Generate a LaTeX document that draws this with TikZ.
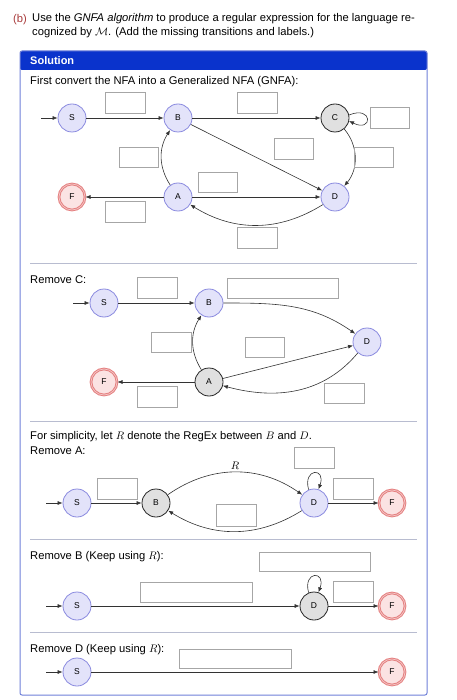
\documentclass[tikz,border=0pt]{standalone}
\usepackage{amsmath}
\usepackage{fontspec}
\setmainfont{Liberation Sans}
\usetikzlibrary{arrows.meta}

\definecolor{stateblue}{HTML}{8A8ADF}
\definecolor{statefill}{HTML}{E3E3FA}
\definecolor{finalred}{HTML}{E58080}
\definecolor{finalfill}{HTML}{FBE3E3}
\definecolor{headblue}{HTML}{0A33CC}
\definecolor{frameblue}{HTML}{6F80D8}
\definecolor{rulegray}{HTML}{B8BCD0}
\definecolor{partred}{HTML}{A83A3A}

\begin{document}
\begin{tikzpicture}[x=1pt, y=1pt,
	state/.style={circle, draw=stateblue, fill=statefill, line width=0.8pt,
		minimum size=28pt, inner sep=0pt, font=\fontsize{8.5}{9}\selectfont},
	elim/.style={state, draw=black!85, fill=black!12},
	final/.style={state, draw=finalred, fill=finalfill, double=finalred!45,
		double distance=0.7pt, line width=1pt, minimum size=26pt},
	trans/.style={draw=black!80, line width=0.6pt,
		-{Latex[length=5pt, width=4pt]}},
	answer/.style={draw=black!35, line width=0.6pt},
	txt/.style={anchor=west, inner sep=0pt, font=\fontsize{11.2}{14}\selectfont}]
	\useasboundingbox (0,0) rectangle (456,-700);

	% task text
	\node [txt, text=partred] (part) at (13,-20) {(b)};
	\node [txt, anchor=north west, align=left] (task) at (32,-13)
		{Use the \emph{GNFA algorithm} to produce a regular expression for the language re-\\
		cognized by $\mathcal{M}$. (Add the missing transitions and labels.)};

	% solution frame
	\fill [headblue, rounded corners=2pt] (20,-51) rectangle (427,-70);
	\draw [frameblue, line width=1pt, rounded corners=2pt] (20,-51) rectangle (427,-695);
	\node [txt, text=white, font=\fontsize{11}{12}\selectfont\bfseries] (sol) at (30,-61) {Solution};
	\foreach \y in {263, 421, 539, 632}
		\draw [rulegray, line width=0.6pt] (30,-\y) -- (417,-\y);

	% GNFA
	\node [txt] (t1) at (30,-82) {First convert the NFA into a Generalized NFA (GNFA):};
	\node [state] (S1) at (72,-118) {S};
	\node [state] (B1) at (178,-118) {B};
	\node [elim]  (C1) at (335,-118) {C};
	\node [final] (F1) at (72,-197) {F};
	\node [state] (A1) at (178,-197) {A};
	\node [state] (D1) at (335,-197) {D};
	\coordinate (i1) at (41,-118);
	\draw [trans] (i1) -- (S1);
	\draw [trans] (S1) -- (B1);
	\draw [trans] (B1) -- (C1);
	\draw [trans] (B1) -- (D1);
	\draw [trans] (C1.12) .. controls +(24,10) and +(24,-12) .. (C1.-12);
	\draw [trans] (C1) to[bend left=40] (D1);
	\draw [trans] (A1) to[bend left=33] (B1);
	\draw [trans] (A1) -- (F1);
	\draw [trans] (A1) -- (D1);
	\draw [trans] (D1) to[bend left=32] (A1);
	\draw [answer] (105,-92) rectangle (145,-113);
	\draw [answer] (237,-92) rectangle (277,-113);
	\draw [answer] (370,-107) rectangle (409,-128);
	\draw [answer] (119,-147) rectangle (158,-167);
	\draw [answer] (274,-138) rectangle (313,-159);
	\draw [answer] (354,-147) rectangle (393,-167);
	\draw [answer] (198,-172) rectangle (237,-192);
	\draw [answer] (105,-201) rectangle (145,-222);
	\draw [answer] (237,-227) rectangle (277,-248);

	% remove C
	\node [txt] (t2) at (30,-280) {Remove C:};
	\node [state] (S2) at (104,-303) {S};
	\node [state] (B2) at (209,-303) {B};
	\node [state] (D2) at (367,-342) {D};
	\node [final] (F2) at (104,-382) {F};
	\node [elim]  (A2) at (209,-382) {A};
	\coordinate (i2) at (73,-303);
	\draw [trans] (i2) -- (S2);
	\draw [trans] (S2) -- (B2);
	\draw [trans] (B2) to[out=0, in=145] (D2);
	\draw [trans] (A2) to[bend left=32] (B2);
	\draw [trans] (A2) -- (D2);
	\draw [trans] (D2) to[out=-130, in=-15] (A2);
	\draw [trans] (A2) -- (F2);
	\draw [answer] (137,-277) rectangle (177,-298);
	\draw [answer] (227,-278) rectangle (338,-298);
	\draw [answer] (151,-332) rectangle (191,-352);
	\draw [answer] (245,-337) rectangle (284,-357);
	\draw [answer] (324,-383) rectangle (364,-403);
	\draw [answer] (137,-386) rectangle (177,-407);

	% remove A
	\node [txt, anchor=north west, align=left, font=\fontsize{11.2}{15}\selectfont] (t3) at (30,-431)
		{For simplicity, let $R$ denote the RegEx between $B$ and $D$.\\
		Remove A:};
	\node [state] (S3) at (77,-503) {S};
	\node [elim]  (B3) at (156,-503) {B};
	\node [state] (D3) at (314,-503) {D};
	\node [final] (F3) at (392,-503) {F};
	\coordinate (i3) at (46,-503);
	\draw [trans] (i3) -- (S3);
	\draw [trans] (S3) -- (B3);
	\draw [trans] (B3) to[bend left=35] node[above=-1pt, font=\fontsize{11}{12}\selectfont] {$R$} (D3);
	\draw [trans] (D3) to[bend left=32] (B3);
	\draw [trans] (D3.112) .. controls +(-6,22) and +(8,22) .. (D3.72);
	\draw [trans] (D3) -- (F3);
	\draw [answer] (97,-478) rectangle (137,-499);
	\draw [answer] (294,-447) rectangle (334,-468);
	\draw [answer] (333,-478) rectangle (373,-499);
	\draw [answer] (216,-504) rectangle (256,-526);

	% remove B
	\node [txt] (t4) at (30,-557) {Remove B (Keep using $R$):};
	\node [state] (S4) at (77,-606) {S};
	\node [elim]  (D4) at (314,-606) {D};
	\node [final] (F4) at (392,-606) {F};
	\coordinate (i4) at (46,-606);
	\draw [trans] (i4) -- (S4);
	\draw [trans] (S4) -- (D4);
	\draw [trans] (D4.112) .. controls +(-6,22) and +(8,22) .. (D4.72);
	\draw [trans] (D4) -- (F4);
	\draw [answer] (259,-552) rectangle (370,-571);
	\draw [answer] (140,-582) rectangle (252,-602);
	\draw [answer] (333,-581) rectangle (373,-602);

	% remove D
	\node [txt] (t5) at (30,-650) {Remove D (Keep using $R$):};
	\node [state] (S5) at (77,-672) {S};
	\node [final] (F5) at (392,-672) {F};
	\coordinate (i5) at (46,-672);
	\draw [trans] (i5) -- (S5);
	\draw [trans] (S5) -- (F5);
	\draw [answer] (179,-649) rectangle (291,-668);
\end{tikzpicture}
\end{document}
